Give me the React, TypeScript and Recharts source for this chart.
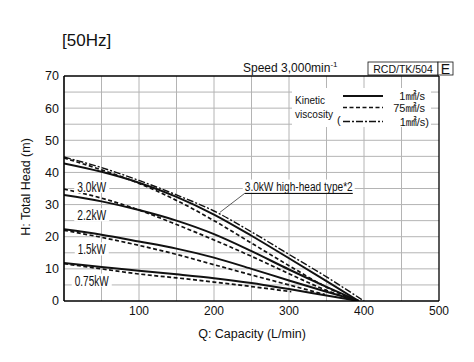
import React from 'react';
import { LineChart, Line, XAxis, YAxis, ReferenceLine, ReferenceDot } from 'recharts';

const FONT = '"Liberation Sans", Arial, Helvetica, "Noto Sans CJK JP", sans-serif';

// axis ticks & grid
const xTicks = [100, 200, 300, 400, 500];
const yTicks = [0, 10, 20, 30, 40, 50, 60, 70];
const gridQ = [50, 100, 150, 200, 250, 300, 350, 400, 450];
const gridH = [5, 10, 15, 20, 25, 30, 35, 40, 45, 50, 55, 60, 65];

// 3.0kW
const q30Solid = [0, 50, 100, 150, 200, 250, 300, 350, 393];
const h30Solid = [42.8, 40.2, 36.8, 32.4, 26.9, 20.3, 13.3, 6.2, 0];
const q30Dash = [0, 50, 100, 150, 200, 250, 300, 350, 390];
const h30Dash = [44.5, 40.8, 36.6, 31.3, 25, 18, 11, 4.3, 0];
// 3.0kW high-head type (dash-dot)
const qHigh = [0, 50, 100, 150, 200, 250, 300, 350, 400];
const hHigh = [44.8, 41.5, 37.5, 33, 28, 21.5, 14.5, 7.5, 0];
// 2.2kW
const q22Solid = [0, 50, 100, 150, 200, 250, 300, 350, 393];
const h22Solid = [33, 31, 28.3, 25, 20.8, 15.5, 9.8, 4.4, 0];
const q22Dash = [0, 50, 100, 150, 200, 250, 300, 350, 390];
const h22Dash = [34.8, 32, 28.3, 23.8, 19, 13.9, 8.5, 3.3, 0];
// 1.5kW
const q15Solid = [0, 50, 100, 150, 200, 250, 300, 350, 393];
const h15Solid = [22.3, 20.6, 18.5, 16.3, 13.5, 10, 6.4, 2.9, 0];
const q15Dash = [0, 50, 100, 150, 200, 250, 300, 348];
const h15Dash = [22, 19.8, 17.3, 14.5, 11.3, 8.1, 5, 2];
// 0.75kW
const q075Solid = [0, 50, 100, 150, 200, 250, 300, 350, 393];
const h075Solid = [11.8, 10.6, 9.4, 8.3, 7.1, 5.6, 3.7, 1.7, 0];
const q075Dash = [0, 50, 100, 150, 200, 250, 303];
const h075Dash = [11.6, 10, 8.4, 7.2, 5.9, 4.5, 2.9];

// curve labels
const powerLabels = ['3.0kW', '2.2kW', '1.5kW', '0.75kW'];
const powerLabelQ = [37, 37, 37, 37];
const powerLabelH = [35.6, 26.8, 16.2, 6.5];
const powerLabelW = [29, 29, 28, 34];

const highHeadText = '3.0kW high-head type*2';
const highHeadLeader = [{ x: 208, y: 27.6 }, { x: 241, y: 33.5 }];
const highHeadUnderline = [{ x: 241, y: 33.5 }, { x: 385, y: 33.5 }];

const mk = (qs: number[], hs: number[]) => qs.map((q, i) => ({ q, h: hs[i] }));

const solid = { stroke: '#111', strokeWidth: 2 };
const dashed = { stroke: '#111', strokeWidth: 1.7, strokeDasharray: '4 2.5' };
const dashDot = { stroke: '#111', strokeWidth: 1.4, strokeDasharray: '7 2 2 2' };

const series = [
  { data: mk(q30Solid, h30Solid), style: solid },
  { data: mk(q30Dash, h30Dash), style: dashed },
  { data: mk(qHigh, hHigh), style: dashDot },
  { data: mk(q22Solid, h22Solid), style: solid },
  { data: mk(q22Dash, h22Dash), style: dashed },
  { data: mk(q15Solid, h15Solid), style: solid },
  { data: mk(q15Dash, h15Dash), style: dashed },
  { data: mk(q075Solid, h075Solid), style: solid },
  { data: mk(q075Dash, h075Dash), style: dashed },
];

const GRID = '#b4b4b4';

export default function App() {
  return (
    <div style={{ position: 'fixed', left: 0, top: 0, width: 474, height: 362, background: '#fff' }}>
      <LineChart width={474} height={362} margin={{ top: 76, right: 35, bottom: 0, left: 0 }}>
        <XAxis
          type="number"
          dataKey="q"
          domain={[0, 500]}
          ticks={xTicks}
          allowDataOverflow
          height={61}
          tickLine={false}
          tickSize={4}
          tickMargin={1}
          axisLine={{ stroke: '#000', strokeWidth: 1.6 }}
          tick={{ fill: '#111', fontSize: 12, fontFamily: FONT }}
        />
        <YAxis
          type="number"
          dataKey="h"
          domain={[0, 70]}
          ticks={yTicks}
          allowDataOverflow
          width={64}
          tickLine={false}
          tickSize={4}
          tickMargin={1}
          axisLine={{ stroke: '#000', strokeWidth: 1.6 }}
          tick={{ fill: '#111', fontSize: 12.5, fontFamily: FONT }}
        />
        {gridQ.map((q) => (
          <ReferenceLine key={'gx' + q} x={q} stroke={GRID} strokeWidth={1} />
        ))}
        {gridH.map((h) => (
          <ReferenceLine key={'gy' + h} y={h} stroke={GRID} strokeWidth={1} />
        ))}
        <ReferenceLine y={70} stroke="#000" strokeWidth={1.3} />
        <ReferenceLine x={500} stroke="#000" strokeWidth={1.3} />
        {powerLabels.map((t, i) => (
          <ReferenceDot
            key={t}
            x={powerLabelQ[i]}
            y={powerLabelH[i]}
            r={0}
            shape={(p: any) => (
              <g>
                <rect x={p.cx - powerLabelW[i] / 2 - 3} y={p.cy - 6.5} width={powerLabelW[i] + 6} height={13} fill="#fff" />
                <text
                  x={p.cx}
                  y={p.cy + 0.5}
                  textAnchor="middle"
                  dominantBaseline="central"
                  fontSize={14}
                  fontFamily={FONT}
                  fill="#111"
                  textLength={powerLabelW[i]}
                  lengthAdjust="spacingAndGlyphs"
                >
                  {t}
                </text>
              </g>
            )}
          />
        ))}
        <ReferenceDot
          x={313}
          y={35.6}
          r={0}
          shape={(p: any) => (
            <g>
              <rect x={p.cx - 56} y={p.cy - 7} width={112} height={13} fill="#fff" />
              <text
                x={p.cx}
                y={p.cy}
                textAnchor="middle"
                dominantBaseline="central"
                fontSize={12.5}
                fontFamily={FONT}
                fill="#111"
                textLength={108}
                lengthAdjust="spacingAndGlyphs"
              >
                {highHeadText}
              </text>
            </g>
          )}
        />
        <ReferenceLine segment={highHeadLeader} stroke="#333" strokeWidth={0.8} />
        <ReferenceLine segment={highHeadUnderline} stroke="#111" strokeWidth={1.2} />
        {series.map((s, i) => (
          <Line
            key={i}
            data={s.data}
            dataKey="h"
            type="monotone"
            dot={false}
            activeDot={false}
            isAnimationActive={false}
            {...s.style}
          />
        ))}
      </LineChart>
      <svg
        width={474}
        height={362}
        style={{ position: 'absolute', left: 0, top: 0, pointerEvents: 'none' }}
        fontFamily={FONT}
      >
        <text x={62} y={46} fontSize={17} fill="#111">[50Hz]</text>
        <text x={243} y={72} fontSize={12} fill="#111">
          Speed 3,000min<tspan fontSize={8} dy={-5}>-1</tspan>
        </text>
        <rect x={368} y={62} width={70} height={13} fill="#fff" stroke="#111" strokeWidth={0.8} />
        <text x={403} y={72.5} fontSize={10.5} textAnchor="middle" fill="#111">RCD/TK/504</text>
        <rect x={438} y={62} width={15} height={13} fill="#fff" stroke="#111" strokeWidth={0.8} />
        <text x={445.5} y={74} fontSize={14} textAnchor="middle" fill="#111">E</text>

        <rect x={292} y={88} width={139} height={39} fill="#fff" />
        <text x={295} y={104} fontSize={11} fill="#111" textLength={30} lengthAdjust="spacingAndGlyphs">Kinetic</text>
        <text x={295} y={118} fontSize={11} fill="#111" textLength={38} lengthAdjust="spacingAndGlyphs">viscosity</text>
        <text x={337} y={124} fontSize={11} fill="#111">(</text>
        <line x1={343} y1={96} x2={383} y2={96} stroke="#111" strokeWidth={2} />
        <line x1={343} y1={107.5} x2={383} y2={107.5} stroke="#111" strokeWidth={1.7} strokeDasharray="4 2.5" />
        <line x1={343} y1={121.5} x2={383} y2={121.5} stroke="#111" strokeWidth={1.4} strokeDasharray="7 2 2 2" />
        <text x={425} y={100} fontSize={11} textAnchor="end" fill="#111">1㎟/s</text>
        <text x={425} y={111.5} fontSize={11} textAnchor="end" fill="#111">75㎟/s</text>
        <text x={429} y={125.5} fontSize={11} textAnchor="end" fill="#111">1㎟/s)</text>

        <text x={252} y={338} fontSize={12.5} textAnchor="middle" fill="#111">Q: Capacity (L/min)</text>
        <text
          x={0}
          y={0}
          fontSize={12.5}
          textAnchor="middle"
          fill="#111"
          transform="translate(29.5 187) rotate(-90)"
        >
          H: Total Head (m)
        </text>
      </svg>
    </div>
  );
}
